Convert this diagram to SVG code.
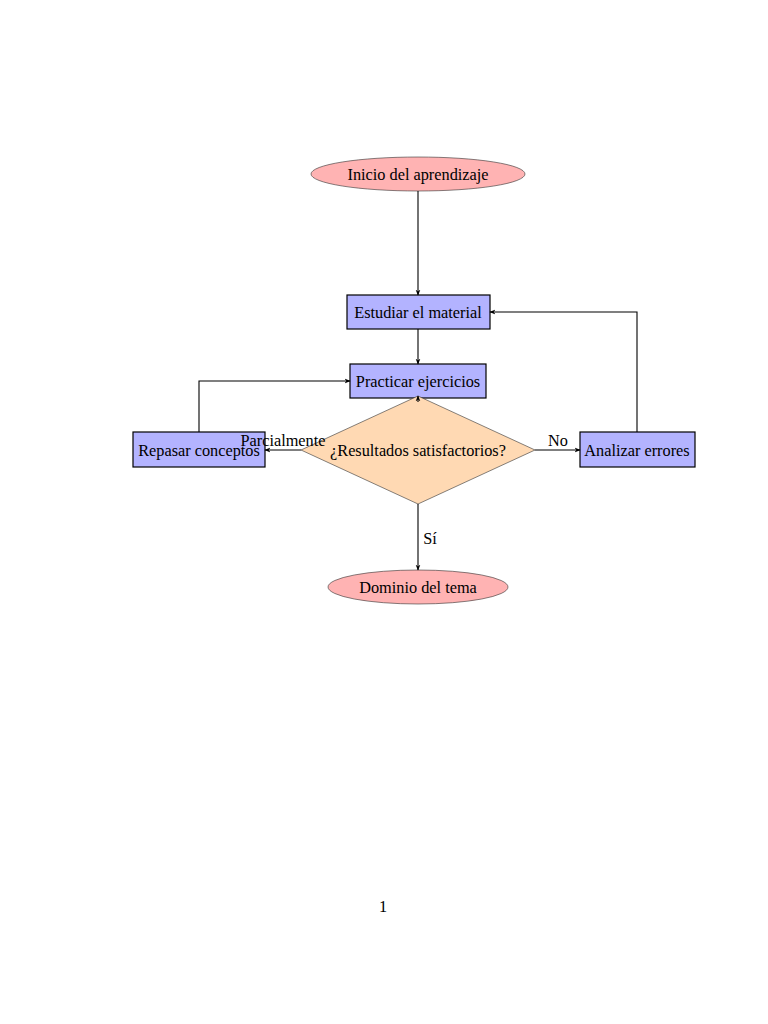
<svg xmlns="http://www.w3.org/2000/svg" width="768" height="1024" viewBox="0 0 768 1024">
<style>
text{font-family:"Liberation Serif","DejaVu Serif",serif;font-size:16.3px;fill:#000;text-anchor:middle;dominant-baseline:central}
.term{fill:#ffb3b3;stroke:#333;stroke-width:0.6}
.proc{fill:#b3b3ff;stroke:#000;stroke-width:1.2}
.dec{fill:#ffd9b3;stroke:#333;stroke-width:0.6}
.edge{fill:none;stroke:#000;stroke-width:1.1;marker-end:url(#ah)}
</style>
<defs>
<marker id="ah" viewBox="0 0 10 10" refX="9" refY="5" markerWidth="6" markerHeight="6" markerUnits="userSpaceOnUse" orient="auto">
<path d="M0,1 L10,5 L0,9 L3,5 Z" fill="#000"/>
</marker>
</defs>
<rect width="768" height="1024" fill="#fff"/>
<g id="inicio"><ellipse class="term" cx="418" cy="174" rx="107" ry="17"/><text x="418" y="174">Inicio del aprendizaje</text></g>
<g id="estudiar"><rect class="proc" x="347" y="295" width="143" height="34"/><text x="418" y="312">Estudiar el material</text></g>
<g id="practicar"><rect class="proc" x="350" y="364" width="136" height="34"/><text x="418" y="381">Practicar ejercicios</text></g>
<g id="decision"><polygon class="dec" points="418,396 535,450 418,504 301,450"/><text x="418" y="450">¿Resultados satisfactorios?</text></g>
<g id="repasar"><rect class="proc" x="133" y="432" width="132" height="35"/><text x="199" y="450">Repasar conceptos</text></g>
<g id="analizar"><rect class="proc" x="580" y="432" width="115" height="35"/><text x="637" y="450">Analizar errores</text></g>
<g id="dominio"><ellipse class="term" cx="418" cy="587" rx="90" ry="17"/><text x="418" y="587">Dominio del tema</text></g>
<g id="connectors">
<path class="edge" d="M418,402 V396"/>
<path class="edge" d="M418,191 V295"/>
<path class="edge" d="M418,329 V364"/>
<path class="edge" d="M301,450 H265"/>
<path class="edge" d="M535,450 H580"/>
<path class="edge" d="M418,504 V570"/>
<path class="edge" d="M199,432 V381 H350"/>
<path class="edge" d="M637,432 V312 H490"/>
<text x="283" y="440">Parcialmente</text>
<text x="558" y="440">No</text>
<text x="430" y="538">Sí</text>
</g>
<text x="383" y="906">1</text>
</svg>
